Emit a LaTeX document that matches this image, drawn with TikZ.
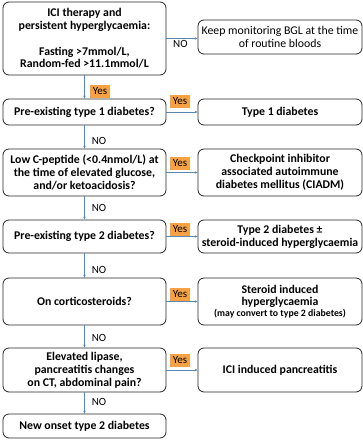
\documentclass[tikz,border=0pt]{standalone}
\usepackage{fontspec}
\setmainfont{Carlito}
\usetikzlibrary{arrows.meta}
\definecolor{linec}{HTML}{5A86B0}
\definecolor{yesc}{HTML}{F4A245}
\begin{document}
\begin{tikzpicture}[x=1pt,y=-1pt,
  box/.style={draw=black!85,line width=0.8pt,rounded corners=6pt,align=center,
    inner sep=1pt,font=\fontsize{11.8}{12.8}\selectfont\bfseries},
  lbox/.style={box,minimum width=163pt},
  rbox/.style={box,minimum width=164pt},
  conn/.style={draw=linec,line width=0.7pt,-{Stealth[length=3pt,width=2.5pt]}},
  yeslab/.style={fill=yesc,inner sep=1.5pt,minimum width=20pt,minimum height=13pt,font=\fontsize{11}{12}\selectfont},
  nolab/.style={font=\fontsize{11}{12}\selectfont,inner sep=0pt}]
\useasboundingbox (0,0) rectangle (363,440);
\node[lbox,minimum height=73pt] (b1) at (84.5,38.5) {ICI therapy and\\persistent hyperglycaemia:\\[12.8pt]Fasting >7mmol/L,\\Random-fed >11.1mmol/L};
\node[rbox,minimum height=34pt,font=\fontsize{11.8}{13}\selectfont] (r1) at (280,37) {Keep monitoring BGL at the time\\of routine bloods};
\node[lbox,minimum height=26pt] (b2) at (84.5,112) {Pre-existing type 1 diabetes?};
\node[rbox,minimum height=26pt] (r2) at (280,112) {Type 1 diabetes};
\node[lbox,minimum height=47pt] (b3) at (84.5,172.5) {Low C-peptide (<0.4nmol/L) at\\the time of elevated glucose,\\and/or ketoacidosis?};
\node[rbox,minimum height=47pt] (r3) at (280,172.5) {Checkpoint inhibitor\\associated autoimmune\\diabetes mellitus (CIADM)};
\node[lbox,minimum height=33pt] (b4) at (84.5,236.5) {Pre-existing type 2 diabetes?};
\node[rbox,minimum height=33pt] (r4) at (280,236.5) {Type 2 diabetes ±\\steroid-induced hyperglycaemia};
\node[lbox,minimum height=47pt] (b5) at (84.5,301.5) {On corticosteroids?};
\node[rbox,minimum height=47pt] (r5) at (280,301.5) {Steroid induced\\hyperglycaemia\\[-2pt]{\fontsize{9.8}{10.5}\selectfont (may convert to type 2 diabetes)}};
\node[lbox,minimum height=44pt] (b6) at (84.5,370) {Elevated lipase,\\pancreatitis changes\\on CT, abdominal pain?};
\node[rbox,minimum height=44pt] (r6) at (280,370) {ICI induced pancreatitis};
\node[lbox,minimum height=24pt] (b7) at (84.5,426) {New onset type 2 diabetes};
% horizontal connectors
\draw[conn] (b1.east) -- (r1.west |- b1.east) node[nolab,pos=0.45,below=2pt] (n0) {NO};
\foreach \i in {2,...,6}{\draw[conn] (b\i.east) -- (r\i.west);}
% vertical connectors
\draw[conn] (b1.south) -- (b2.north);
\draw[conn] (b2.south) -- (b3.north);
\draw[conn] (b3.south) -- (b4.north);
\draw[conn] (b4.south) -- (b5.north);
\draw[conn] (b5.south) -- (b6.north);
\draw[conn] (b6.south) -- (b7.north);
% labels
\node[yeslab] (y1) at (100,91.5) {Yes};
\node[yeslab] (y2) at (180,101) {Yes};
\node[yeslab] (y3) at (180,163.5) {Yes};
\node[yeslab] (y4) at (180,229.5) {Yes};
\node[yeslab] (y5) at (180,294.5) {Yes};
\node[yeslab] (y6) at (180,360) {Yes};
\node[nolab] (n1) at (99,141) {NO};
\node[nolab] (n2) at (99,208) {NO};
\node[nolab] (n3) at (99,270) {NO};
\node[nolab] (n4) at (99,338) {NO};
\node[nolab] (n5) at (99,402) {NO};
\end{tikzpicture}
\end{document}
